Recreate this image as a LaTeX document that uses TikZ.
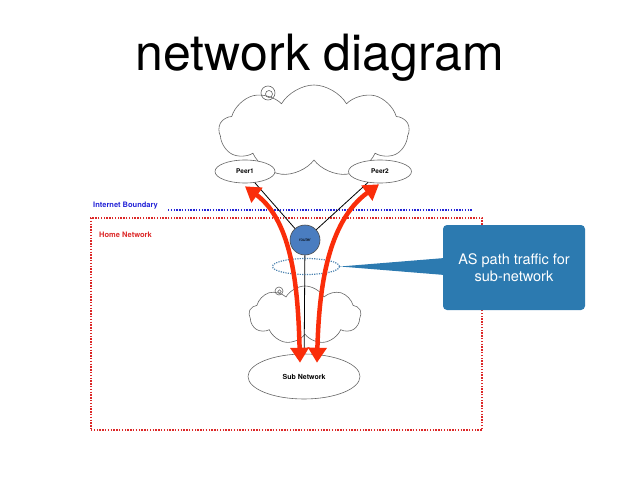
\documentclass[tikz,border=0pt]{standalone}
\usepackage{fontspec}
\setmainfont{TeX Gyre Heros}
\usetikzlibrary{shapes.geometric,shapes.symbols,arrows.meta,calc}
\definecolor{calloutblue}{RGB}{44,122,176}
\definecolor{routerblue}{RGB}{74,125,192}
\definecolor{arrowred}{RGB}{250,45,10}
\definecolor{ibblue}{RGB}{35,35,215}
\definecolor{hnred}{RGB}{220,40,40}
\definecolor{ringblue}{RGB}{75,130,175}
\tikzset{
  cloudshape/.style={cloud, draw=black!60, line width=0.6pt, cloud puffs=9, cloud puff arc=120, aspect=2.1, inner sep=0pt},
  peer/.style={ellipse, draw=black!60, line width=0.6pt, fill=white, inner sep=0pt, font=\fontsize{6.5}{7}\selectfont\bfseries},
  routernode/.style={circle, draw=black!70, line width=0.6pt, fill=routerblue, inner sep=0pt, minimum size=30pt, font=\fontsize{4.5}{5}\selectfont},
  link/.style={black, line width=0.8pt},
  traffic/.style={arrowred, line width=4.5pt, {Triangle[length=15pt,width=18pt]}-{Triangle[length=15pt,width=18pt]}},
  calloutbox/.style={rectangle, rounded corners=4pt, fill=calloutblue, text=white, align=center, minimum width=142pt, minimum height=85pt, font=\fontsize{14.5}{17.5}\selectfont},
  spiral/.style={draw=black!60, line width=0.6pt},
  dotline/.style={line width=1.5pt, dash pattern=on 1.4pt off 1.4pt},
}
\begin{document}
\begin{tikzpicture}[x=1pt,y=-1pt]
\useasboundingbox (0,0) rectangle (638,479);
% title
\node[anchor=base, font=\fontsize{50}{56}\selectfont] (title) at (320,70) {network diagram};
% clouds
\node[cloudshape, minimum width=190pt, minimum height=92pt] (cloudA) at (314,131) {};
\node[cloudshape, minimum width=112pt, minimum height=58pt] (cloudB) at (305,315) {};
\draw[spiral] (268,93) circle (7pt) (269,94) circle (3.5pt);
\draw[spiral] (279,291) circle (4pt) (279.5,291.5) circle (1.8pt);
% peers
\node[peer, minimum width=60pt, minimum height=23pt] (peer1) at (245,171.5) {Peer1};
\node[peer, minimum width=63pt, minimum height=23pt] (peer2) at (380,171.5) {Peer2};
% sub network
\node[peer, minimum width=112pt, minimum height=45pt, font=\fontsize{7}{8}\selectfont\bfseries] (sub) at (304,376.5) {Sub Network};
% boundaries
\node[anchor=west, text=ibblue, font=\fontsize{7.5}{8}\selectfont\bfseries, inner sep=0pt] (ib) at (93,205.5) {Internet Boundary};
\coordinate (ibstart) at (168,210);
\coordinate (ibend) at (472,210);
\draw[ibblue, dotline] (ibstart) -- (ibend);
\node[anchor=west, text=hnred, font=\fontsize{7.5}{8}\selectfont\bfseries, inner sep=0pt] (hn) at (99,235) {Home Network};
\node[draw=hnred, dotline, minimum width=391pt, minimum height=212pt, inner sep=0pt] (home) at (286.5,324) {};
% router and links
\node[routernode] (router) at (305,240) {router};
\draw[link] (router) -- (peer1);
\draw[link] (router) -- (peer2);
\draw[link] (router) -- (sub);
% ring
\node[ellipse, draw=ringblue, line width=1.2pt, dash pattern=on 1.2pt off 1.2pt, minimum width=67pt, minimum height=16pt, inner sep=0pt] (ring) at (306,266.5) {};
% traffic arrows
\draw[traffic] ($(peer1.south)+(0,3)$) .. controls (293,222) and (298,290) .. ($(sub.north)+(-4,9)$);
\draw[traffic] ($(peer2.south)+(-1,1)$) .. controls (327,222) and (319,290) .. ($(sub.north)+(13,9)$);
% callout
\node[calloutbox] (callout) at (514,267.5) {AS path traffic for\\sub-network};
\fill[calloutblue] (ring.east) -- ($(callout.west)+(2,-9.5)$) -- ($(callout.west)+(2,7.5)$) -- cycle;
\end{tikzpicture}
\end{document}
